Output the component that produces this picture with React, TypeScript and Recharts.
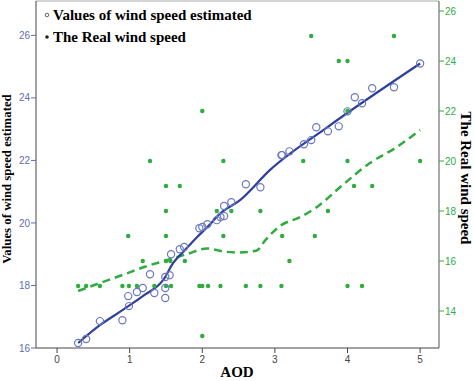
import { ComposedChart, Line, Scatter, XAxis, YAxis } from "recharts";

// AOD vs wind speed: estimated values (left axis) and measured values (right axis)
const estAod = [
  0.29, 0.4, 0.59, 0.9, 0.98, 0.99, 1.1, 1.18, 1.28, 1.34, 1.49, 1.49, 1.49, 1.55,
  1.57, 1.69, 1.75, 1.96, 2.0, 2.07, 2.2, 2.25, 2.3, 2.3, 2.4, 2.6, 2.8, 3.09, 3.1,
  3.2, 3.4, 3.5, 3.57, 3.73, 3.88, 4.0, 4.1, 4.2, 4.34, 4.64, 5.0,
];
const estSpeed = [
  16.16, 16.29, 16.86, 16.89, 17.66, 17.34, 17.79, 17.92, 18.36, 17.76, 18.27, 17.92,
  17.6, 18.33, 19.0, 19.16, 19.23, 19.83, 19.87, 19.96, 20.09, 20.19, 20.22, 20.54,
  20.66, 21.24, 21.14, 22.17, 22.17, 22.29, 22.52, 22.65, 23.06, 22.93, 23.09, 23.57,
  24.02, 23.83, 24.31, 24.34, 25.1,
];

const realAod = [
  3.5, 4.64, 3.88, 4.0, 2.0, 4.0, 1.28, 2.29, 3.39, 4.0, 5.0, 1.5, 1.69, 4.09, 4.34,
  1.5, 2.2, 2.4, 2.8, 3.73, 0.98, 1.5, 2.29, 3.1, 3.55, 1.18, 1.5, 1.56, 1.76, 3.2,
  0.29, 0.4, 0.59, 0.9, 0.99, 1.1, 1.34, 1.5, 1.57, 1.96, 2.0, 2.08, 2.25, 2.6, 2.8,
  3.09, 4.0, 4.2, 2.0,
];
const realSpeed = [
  25, 25, 24, 24, 22, 22, 20, 20, 20, 20, 20, 19, 19, 19, 19, 18, 18, 18, 18, 18, 17,
  17, 17, 17, 17, 16, 16, 16, 16, 16, 15, 15, 15, 15, 15, 15, 15, 15, 15, 15, 15, 15,
  15, 15, 15, 15, 15, 15, 13,
];

// smoothed fit lines
const estFitAod = [0.29, 0.59, 0.9, 1.2, 1.46, 1.6, 1.76, 1.93, 2.07, 2.25, 2.52, 2.93, 3.72, 5.0];
const estFitSpeed = [16.16, 16.73, 17.21, 17.69, 18.17, 18.72, 19.13, 19.55, 19.87, 20.31, 20.73, 21.69, 23.06, 25.1];

const realFitAod = [0.29, 0.59, 0.9, 1.2, 1.52, 1.79, 2.07, 2.29, 2.52, 2.75, 2.87, 3.07, 3.35, 3.58, 3.9, 4.31, 4.68, 5.0];
const realFitSpeed = [14.8, 15.12, 15.44, 15.76, 16.04, 16.28, 16.5, 16.38, 16.34, 16.42, 16.84, 17.4, 17.76, 18.16, 18.96, 19.92, 20.56, 21.24];

const xTicks = [0, 1, 2, 3, 4, 5];
const leftTicks = [16, 18, 20, 22, 24, 26];
const rightTicks = [14, 16, 18, 20, 22, 24, 26];

const estPoints = estAod.map((x, i) => ({ x, y: estSpeed[i] }));
const realPoints = realAod.map((x, i) => ({ x, y: realSpeed[i] }));
const estFit = estFitAod.map((x, i) => ({ x, y: estFitSpeed[i] }));
const realFit = realFitAod.map((x, i) => ({ x, y: realFitSpeed[i] }));

const BLUE = "#2f3f9c";
const CIRCLE = "#6a78c2";
const GREEN = "#2fac3f";
const SERIF = "'Liberation Serif', 'Times New Roman', serif";
const SANS = "'Liberation Sans', Arial, sans-serif";

const HollowCircle = (p: any) => (
  <circle cx={p.cx} cy={p.cy} r={3.6} fill="none" stroke={CIRCLE} strokeWidth={1.2} />
);
const Dot = (p: any) => <circle cx={p.cx} cy={p.cy} r={2.2} fill={GREEN} />;

function LegendBox() {
  const row = { display: "flex", alignItems: "center", height: 22, whiteSpace: "nowrap" as const };
  return (
    <div
      style={{
        position: "absolute",
        left: 43,
        top: 4,
        fontFamily: SERIF,
        fontWeight: "bold",
        fontSize: 15,
        color: "#000",
      }}
    >
      <div style={row}>
        <svg width={10} height={8}>
          <circle cx={4} cy={4} r={1.8} fill="none" stroke="#555" strokeWidth={0.9} />
        </svg>
        <span>Values of wind speed estimated</span>
      </div>
      <div style={row}>
        <svg width={10} height={8}>
          <circle cx={4} cy={4} r={1.8} fill="#222" />
        </svg>
        <span>The Real wind speed</span>
      </div>
    </div>
  );
}

export default function App() {
  return (
    <div style={{ position: "absolute", left: 0, top: 0, width: 474, height: 381, background: "#fff" }}>
      <ComposedChart width={474} height={381} margin={{ top: 0, right: 0, left: 0, bottom: 0 }}>
        <XAxis
          xAxisId="x"
          dataKey="x"
          type="number"
          domain={[-0.29, 5.26]}
          ticks={xTicks}
          allowDataOverflow
          height={33}
          stroke="#444"
          tickSize={5}
          tickMargin={3}
          tick={{ fontSize: 10, fill: "#444", fontFamily: SANS }}
          label={() => (
            <text
              x={237}
              y={377}
              textAnchor="middle"
              fontFamily={SERIF}
              fontWeight="bold"
              fontSize={15}
              fill="#000"
            >
              AOD
            </text>
          )}
        />
        <XAxis
          xAxisId="top"
          orientation="top"
          type="number"
          domain={[-0.29, 5.26]}
          height={1}
          tick={false}
          tickLine={false}
          stroke="#aaa"
        />
        <YAxis
          yAxisId="left"
          dataKey="y"
          type="number"
          domain={[16, 27.1]}
          ticks={leftTicks}
          allowDataOverflow
          width={36}
          axisLine={{ stroke: "#444" }}
          tickLine={{ stroke: "#5f6db5" }}
          tickSize={5}
          tickMargin={1}
          tick={{ fontSize: 10, fill: "#5f6db5", fontFamily: SANS }}
          label={() => (
            <text
              x={11}
              y={179}
              transform="rotate(-90 11 179)"
              textAnchor="middle"
              fontFamily={SERIF}
              fontWeight="bold"
              fontSize={12.8}
              fill="#000"
            >
              Values of wind speed estimated
            </text>
          )}
        />
        <YAxis
          yAxisId="right"
          dataKey="y"
          orientation="right"
          type="number"
          domain={[12.52, 26.4]}
          ticks={rightTicks}
          allowDataOverflow
          width={35}
          axisLine={{ stroke: "#555" }}
          tickLine={{ stroke: GREEN }}
          tickSize={5}
          tickMargin={1}
          tick={{ fontSize: 10, fill: GREEN, fontFamily: SANS }}
          label={() => (
            <text
              x={461}
              y={178}
              transform="rotate(90 461 178)"
              textAnchor="middle"
              fontFamily={SERIF}
              fontWeight="bold"
              fontSize={15}
              fill="#000"
            >
              The Real wind speed
            </text>
          )}
        />
        <Scatter
          xAxisId="x"
          yAxisId="right"
          data={realPoints}
          dataKey="y"
          shape={Dot}
          isAnimationActive={false}
        />
        <Line
          xAxisId="x"
          yAxisId="right"
          data={realFit}
          dataKey="y"
          type="monotone"
          stroke={GREEN}
          strokeWidth={2.5}
          strokeDasharray="8 5"
          dot={false}
          isAnimationActive={false}
        />
        <Scatter
          xAxisId="x"
          yAxisId="left"
          data={estPoints}
          dataKey="y"
          shape={HollowCircle}
          isAnimationActive={false}
        />
        <Line
          xAxisId="x"
          yAxisId="left"
          data={estFit}
          dataKey="y"
          type="monotone"
          stroke={BLUE}
          strokeWidth={2.2}
          dot={false}
          isAnimationActive={false}
        />
      </ComposedChart>
      <LegendBox />
    </div>
  );
}
